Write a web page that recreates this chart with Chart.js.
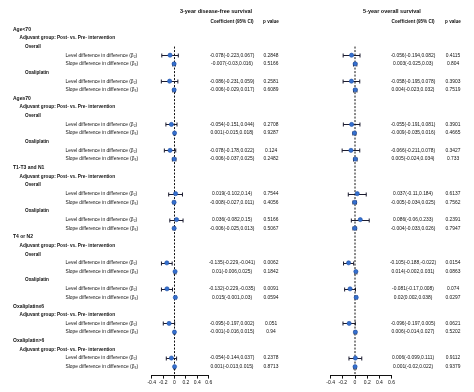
<!DOCTYPE html>
<html><head><meta charset="utf-8">
<script src="https://cdn.jsdelivr.net/npm/chart.js@4.4.1/dist/chart.umd.min.js"></script>
<style>
html,body{margin:0;padding:0;background:#fff;}
#wrap{position:relative;width:474px;height:392px;overflow:hidden;}
#wrap canvas{position:absolute;left:0;top:0;}
</style></head>
<body><div id="wrap"><canvas id="c1" width="474" height="392"></canvas><canvas id="c2" width="474" height="392"></canvas></div>
<script>
// ---------- data ----------
const rowLabels = [
 'Age<70','Adjuvant group: Post- vs. Pre- intervention','Overall','Level difference in difference (β₂)','Slope difference in difference (β₃)','Oxaliplatin','Level difference in difference (β₂)','Slope difference in difference (β₃)',
 'Age≥70','Adjuvant group: Post- vs. Pre- intervention','Overall','Level difference in difference (β₂)','Slope difference in difference (β₃)','Oxaliplatin','Level difference in difference (β₂)','Slope difference in difference (β₃)',
 'T1-T3 and N1','Adjuvant group: Post- vs. Pre- intervention','Overall','Level difference in difference (β₂)','Slope difference in difference (β₃)','Oxaliplatin','Level difference in difference (β₂)','Slope difference in difference (β₃)',
 'T4 or N2','Adjuvant group: Post- vs. Pre- intervention','Overall','Level difference in difference (β₂)','Slope difference in difference (β₃)','Oxaliplatin','Level difference in difference (β₂)','Slope difference in difference (β₃)',
 'Oxaliplatin≤6','Adjuvant group: Post- vs. Pre- intervention','Level difference in difference (β₂)','Slope difference in difference (β₃)',
 'Oxaliplatin>6','Adjuvant group: Post- vs. Pre- intervention','Level difference in difference (β₂)','Slope difference in difference (β₃)'
];
const rowTypes = [
 'group','adjuvant','arm','term','term','arm','term','term',
 'group','adjuvant','arm','term','term','arm','term','term',
 'group','adjuvant','arm','term','term','arm','term','term',
 'group','adjuvant','arm','term','term','arm','term','term',
 'group','adjuvant','term','term',
 'group','adjuvant','term','term'
];
const panelTitles = ['3-year disease-free survival','5-year overall survival'];
const columnHeaders = ['Coefficient (95% CI)','p value'];
const xTicks = [-0.4,-0.2,0,0.2,0.4,0.6];

const dfsEst  = [-0.078,-0.007,-0.086,-0.006,-0.054,0.001,-0.078,-0.006,0.019,-0.008,0.036,-0.006,-0.135,0.01,-0.132,0.015,-0.095,-0.001,-0.054,0.001];
const dfsLow  = [-0.223,-0.03,-0.231,-0.029,-0.151,-0.015,-0.178,-0.037,-0.102,-0.027,-0.082,-0.025,-0.229,-0.006,-0.229,-0.001,-0.197,-0.016,-0.144,-0.013];
const dfsHigh = [0.067,0.016,0.059,0.017,0.044,0.018,0.022,0.025,0.14,0.011,0.15,0.013,-0.041,0.025,-0.035,0.03,0.002,0.015,0.037,0.015];
const dfsP    = [0.2848,0.5166,0.2581,0.6089,0.2708,0.9287,0.124,0.2482,0.7544,0.4056,0.5166,0.5067,0.0062,0.1842,0.0091,0.0594,0.051,0.94,0.2378,0.8713];

const osEst   = [-0.056,0.003,-0.058,0.004,-0.055,-0.009,-0.066,0.005,0.037,-0.005,0.086,-0.004,-0.105,0.014,-0.081,0.02,-0.096,0.006,0.006,0.001];
const osLow   = [-0.194,-0.025,-0.195,-0.023,-0.191,-0.035,-0.211,-0.024,-0.11,-0.034,-0.06,-0.033,-0.188,-0.002,-0.17,0.002,-0.197,-0.014,-0.099,-0.02];
const osHigh  = [0.082,0.03,0.078,0.032,0.081,0.016,0.078,0.034,0.184,0.025,0.233,0.026,-0.022,0.031,0.008,0.038,0.005,0.027,0.111,0.022];
const osP     = [0.4115,0.804,0.3903,0.7519,0.3901,0.4665,0.3427,0.733,0.6137,0.7562,0.2391,0.7947,0.0154,0.0863,0.074,0.0297,0.0621,0.5202,0.9112,0.9379];

// ---------- rendering ----------
const termRows = rowTypes.map((t,i)=>t==='term'?i:-1).filter(i=>i>=0);
const FONT = "'Liberation Sans', Arial, sans-serif";
const Y_MIN = -2.851, Y_MAX = 40.03;

const errorBars = {
  id:'errorBars',
  beforeDatasetsDraw(chart, args, o){
    const {ctx, scales:{x,y}} = chart;
    ctx.save();
    ctx.strokeStyle = '#1c1c30'; ctx.lineWidth = 1;
    termRows.forEach((r,i)=>{
      const py = Math.round(y.getPixelForValue(r))+0.5;
      const x1 = x.getPixelForValue(o.low[i]), x2 = x.getPixelForValue(o.high[i]);
      ctx.beginPath();
      ctx.moveTo(x1,py); ctx.lineTo(x2,py);
      ctx.moveTo(x1,py-2); ctx.lineTo(x1,py+2);
      ctx.moveTo(x2,py-2); ctx.lineTo(x2,py+2);
      ctx.stroke();
    });
    ctx.restore();
  }
};

const textCols = {
  id:'textCols',
  afterDraw(chart, args, o){
    const {ctx, scales:{y}} = chart;
    ctx.save();
    ctx.fillStyle = '#111';
    ctx.textBaseline = 'middle';
    if (o.labels){
      rowLabels.forEach((lab,i)=>{
        const t = rowTypes[i];
        const py = y.getPixelForValue(i);
        let xx, f;
        if (t==='group'){ xx=13; f='bold 5px '+FONT; }
        else if (t==='adjuvant'){ xx=19.5; f='bold 4.7px '+FONT; }
        else if (t==='arm'){ xx=25; f='bold 4.7px '+FONT; }
        else { xx=65.5; f='4.9px '+FONT; }
        ctx.font = f; ctx.textAlign='left';
        ctx.fillText(lab, xx, py);
      });
    }
    ctx.textAlign = 'center';
    ctx.font = 'bold 5.5px '+FONT;
    ctx.fillText(o.title, o.titleX, y.getPixelForValue(-2.05));
    ctx.font = 'bold 4.6px '+FONT;
    ctx.fillText(columnHeaders[0], o.coefX, y.getPixelForValue(-0.91));
    ctx.fillText(columnHeaders[1], o.pX, y.getPixelForValue(-0.91));
    ctx.font = '4.9px '+FONT;
    termRows.forEach((r,i)=>{
      const py = y.getPixelForValue(r);
      ctx.fillText(`${o.est[i]}(${o.low[i]},${o.high[i]})`, o.coefX, py);
      ctx.fillText(String(o.p[i]), o.pX, py);
    });
    ctx.restore();
  }
};

function makeChart(id, est, low, high, p, padL, padR, title, titleX, coefX, pX, labels){
  return new Chart(document.getElementById(id), {
    data:{
      datasets:[
        { type:'scatter', data: termRows.map((r,i)=>({x:est[i], y:r})),
          pointRadius:2.1, pointBackgroundColor:'#3570cf', pointBorderColor:'#2051a6', pointBorderWidth:0.6 },
        { type:'line', data:[{x:0,y:2},{x:0,y:Y_MAX}], borderColor:'#111', borderWidth:1,
          borderDash:[2,1.5], pointRadius:0, fill:false }
      ]
    },
    options:{
      responsive:false, devicePixelRatio:1, animation:false,
      layout:{ padding:{ left:padL, right:padR, top:0, bottom:5.4 } },
      plugins:{ legend:{display:false}, tooltip:{enabled:false},
        errorBars:{ low, high },
        textCols:{ est, low, high, p, title, titleX, coefX, pX, labels } },
      scales:{
        x:{ type:'linear', min:-0.4, max:0.6,
            afterBuildTicks: s => { s.ticks = xTicks.map(v=>({value:v})); },
            ticks:{ callback:v=>String(v), font:{size:5, family:FONT}, color:'#111', padding:1, maxRotation:0, autoSkip:false },
            grid:{ drawOnChartArea:false, drawTicks:true, tickLength:3, color:'#111' },
            border:{ display:true, color:'#111', width:1 } },
        y:{ type:'linear', display:false, reverse:true, min:Y_MIN, max:Y_MAX }
      }
    },
    plugins:[errorBars, textCols]
  });
}

makeChart('c1', dfsEst, dfsLow, dfsHigh, dfsP, 151.7, 474-208.7, panelTitles[0], 216, 232, 271, true);
makeChart('c2', osEst, osLow, osHigh, osP, 330.6, 474-391.6, panelTitles[1], 392, 413, 453, false);
</script>
</body></html>
